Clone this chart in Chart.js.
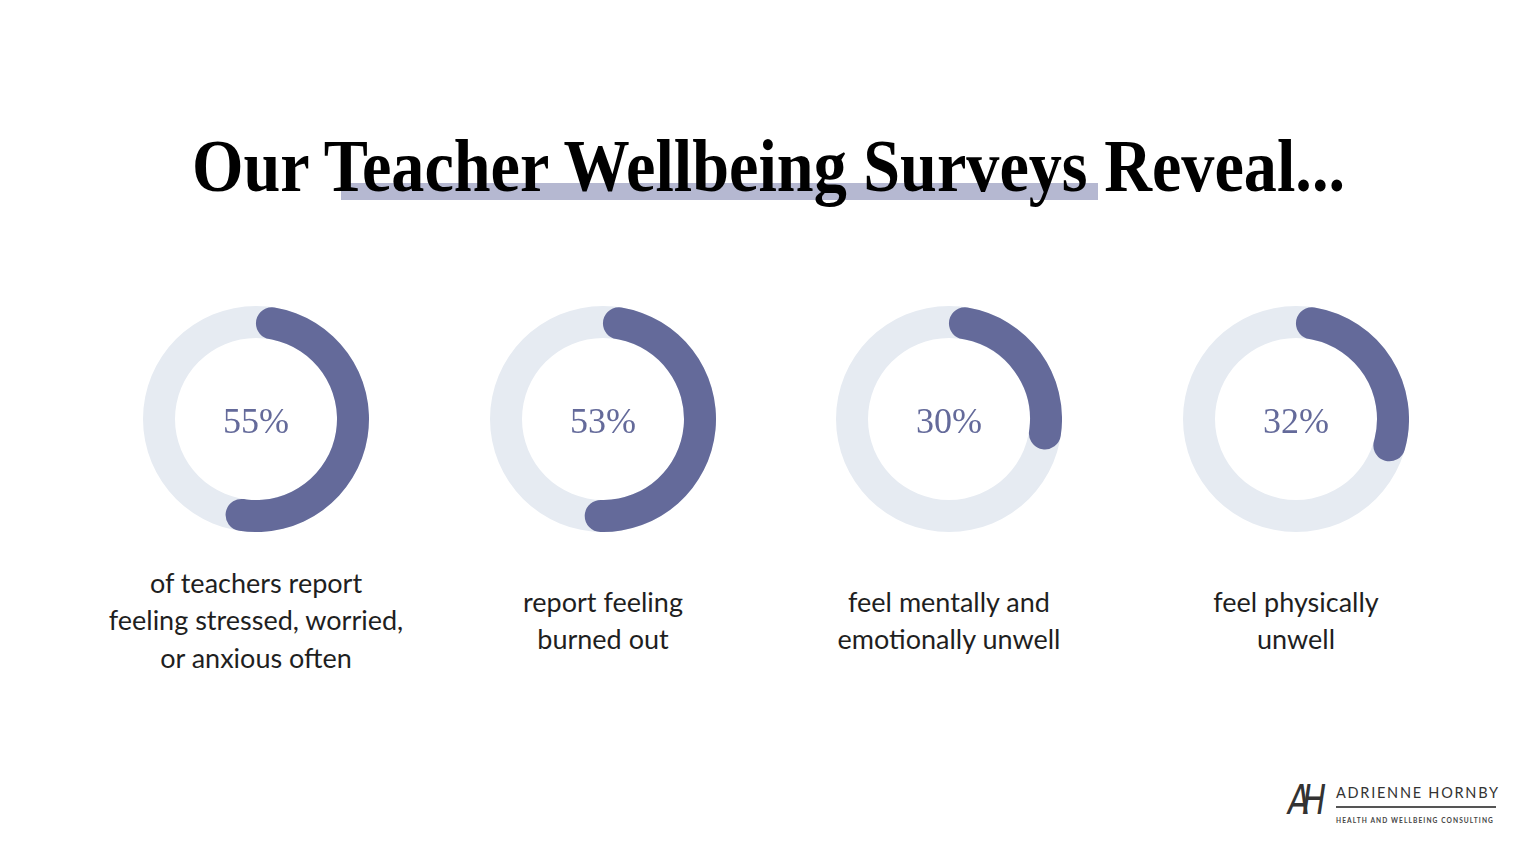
<!DOCTYPE html>
<html>
<head>
<meta charset="utf-8">
<script src="https://cdn.jsdelivr.net/npm/chart.js@4/dist/chart.umd.min.js"></script>
<style>
  html, body { margin:0; padding:0; background:#fff; width:1536px; height:864px; overflow:hidden; }
  #stage { position:relative; width:1536px; height:864px; }
  #title { position:absolute; left:0; top:0; white-space:nowrap; font-family:"Liberation Serif", serif; font-weight:bold; font-size:74px; color:#000; transform-origin:0 0; line-height:1; }
  #hl { position:absolute; left:341px; top:183px; width:757px; height:17px; background:rgba(92,98,152,0.45); }
  .donut { position:absolute; width:226px; height:226px; }
  .cap { position:absolute; width:360px; height:160px; display:flex; align-items:center; justify-content:center; text-align:center; font-family:Lato, sans-serif; font-size:27px; line-height:37.5px; color:#1f1f1f; }
  #logoMono { position:absolute; left:1288px; top:780px; font-family:"DejaVu Sans", sans-serif; font-style:italic; font-size:40px; color:#333; letter-spacing:-10px; font-weight:200; line-height:1; transform:scaleX(0.8); transform-origin:0 0; }
  #logoName { position:absolute; left:1336px; top:786px; font-family:Lato, "Open Sans", sans-serif; font-size:14.5px; letter-spacing:1.75px; color:#333; line-height:1; white-space:nowrap; }
  #logoLine { position:absolute; left:1336px; top:806px; width:160px; height:1.5px; background:#555; }
  #logoSub { position:absolute; left:1336px; top:817px; font-family:Lato, "Open Sans", sans-serif; font-size:6.6px; letter-spacing:1.1px; color:#444; line-height:1; white-space:nowrap; font-weight:bold; }
</style>
</head>
<body>
<div id="stage">
  <div id="hl"></div>
  <div id="title">Our Teacher Wellbeing Surveys Reveal...</div>
  <div id="logoMono">AH</div>
  <div id="logoName">ADRIENNE HORNBY</div>
  <div id="logoLine"></div>
  <div id="logoSub">HEALTH AND WELLBEING CONSULTING</div>
</div>
<script>
// ---- data ----
const percentages = [55, 53, 30, 32];
const captions = [
  ["of teachers report", "feeling stressed, worried,", "or anxious often"],
  ["report feeling", "burned out"],
  ["feel mentally and", "emotionally unwell"],
  ["feel physically", "unwell"]
];
const centersX = [256, 603, 949, 1296];
const centerY = 419;

const ARC = '#646a9a';
const TRACK = '#e6ebf2';

// fit title
(function(){
  const t = document.getElementById('title');
  const w = t.getBoundingClientRect().width;
  const target = 1153;
  const sx = target / w;
  t.style.left = '192px';
  t.style.top = '129px';
  t.style.transform = 'scaleX(' + sx + ')';
})();

const trackPlugin = {
  id: 'track',
  beforeDatasetsDraw(chart) {
    const arc = chart.getDatasetMeta(0).data[0];
    if (!arc) return;
    const ctx = chart.ctx;
    ctx.save();
    ctx.beginPath();
    ctx.arc(arc.x, arc.y, arc.outerRadius, 0, Math.PI * 2);
    ctx.arc(arc.x, arc.y, arc.innerRadius, Math.PI * 2, 0, true);
    ctx.closePath();
    ctx.fillStyle = TRACK;
    ctx.fill();
    ctx.restore();
  }
};
const centerText = {
  id: 'centerText',
  afterDatasetsDraw(chart) {
    const arc = chart.getDatasetMeta(0).data[0];
    const v = chart.data.datasets[0].data[0];
    const ctx = chart.ctx;
    ctx.save();
    ctx.font = '36px "Liberation Serif", serif';
    ctx.fillStyle = ARC;
    ctx.textAlign = 'center';
    ctx.textBaseline = 'middle';
    ctx.fillText(v + '%', arc.x, arc.y + 5);
    ctx.restore();
  }
};

const stage = document.getElementById('stage');
percentages.forEach((p, i) => {
  const wrap = document.createElement('div');
  wrap.className = 'donut';
  wrap.style.left = (centersX[i] - 113) + 'px';
  wrap.style.top = (centerY - 113) + 'px';
  const cv = document.createElement('canvas');
  cv.width = 226; cv.height = 226;
  wrap.appendChild(cv);
  stage.appendChild(wrap);

  new Chart(cv, {
    type: 'doughnut',
    data: {
      labels: ['value', 'rest'],
      datasets: [{
        data: [p, 100 - p],
        backgroundColor: [ARC, 'rgba(0,0,0,0)'],
        borderWidth: 0,
        borderRadius: [16, 0]
      }]
    },
    options: {
      responsive: false,
      animation: false,
      cutout: 81,
      layout: { padding: 0 },
      plugins: { legend: { display: false }, tooltip: { enabled: false } },
      events: []
    },
    plugins: [trackPlugin, centerText]
  });

  const cap = document.createElement('div');
  cap.className = 'cap';
  cap.style.left = (centersX[i] - 180) + 'px';
  cap.style.top = (620 - 80) + 'px';
  cap.innerHTML = captions[i].join('<br>');
  stage.appendChild(cap);
});
</script>
</body>
</html>
